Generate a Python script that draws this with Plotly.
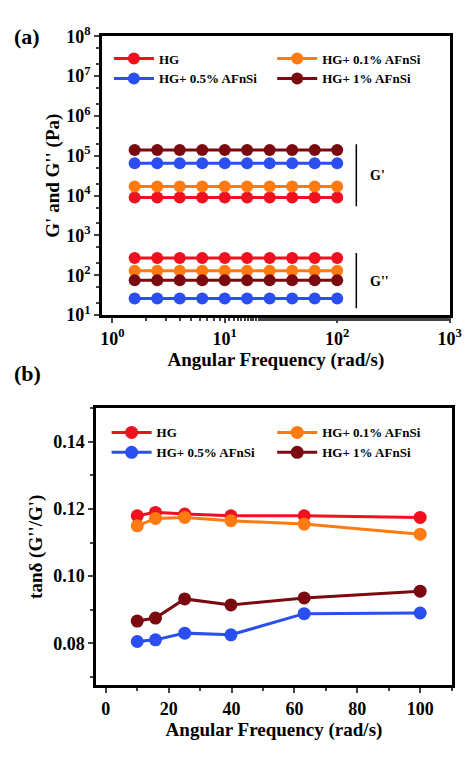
import plotly.graph_objects as go

# data
names = ['HG', 'HG+ 0.1% AFnSi', 'HG+ 0.5% AFnSi', 'HG+ 1% AFnSi']
colors = ['#f01020', '#ff7a10', '#2a4ef0', '#7a0a10']

freq_a = [1.58, 2.51, 3.98, 6.31, 10, 15.8, 25.1, 39.8, 63.1, 100]
g1 = [9.0e3, 1.7e4, 6.5e4, 1.4e5]      # G'
g2 = [270, 130, 26, 75]                 # G''

freq_b = [10, 15.8, 25.1, 39.8, 63.1, 100]
tan_hg = [0.118, 0.119, 0.1185, 0.118, 0.118, 0.1175]
tan_01 = [0.115, 0.1172, 0.1175, 0.1165, 0.1155, 0.1125]
tan_05 = [0.0805, 0.081, 0.083, 0.0825, 0.0888, 0.089]
tan_1 = [0.0866, 0.0875, 0.0932, 0.0914, 0.0935, 0.0955]
tans = [tan_hg, tan_01, tan_05, tan_1]

FONT = 'Liberation Serif'
leg_a = ['legend', 'legend2', 'legend', 'legend2']
leg_b = ['legend3', 'legend4', 'legend3', 'legend4']

fig = go.Figure()
for i in range(4):
    for vals, show in ((g1, True), (g2, False)):
        fig.add_trace(go.Scatter(
            x=freq_a, y=[vals[i]] * len(freq_a), mode='lines+markers', name=names[i],
            line=dict(color=colors[i], width=3), showlegend=show, legend=leg_a[i],
            marker=dict(size=12, color=colors[i]), xaxis='x', yaxis='y'))
for i in range(4):
    fig.add_trace(go.Scatter(
        x=freq_b, y=tans[i], mode='lines+markers', name=names[i],
        line=dict(color=colors[i], width=3), legend=leg_b[i],
        marker=dict(size=13, color=colors[i]), xaxis='x2', yaxis='y2'))

tick_font = dict(family=FONT, size=18, color='black', weight='bold')
ax = dict(showline=True, linecolor='black', linewidth=3, mirror=True, ticks='outside',
          tickwidth=2, ticklen=5, showgrid=False, zeroline=False, tickfont=tick_font)
tfont = dict(family=FONT, size=19, color='black', weight='bold')
leg = dict(bgcolor='rgba(0,0,0,0)', itemwidth=40, xanchor='left', yanchor='top',
           font=dict(family=FONT, size=13, color='black', weight='bold'), tracegroupgap=0)
minor = dict(ticks='outside', ticklen=3, tickwidth=1.5)

fig.update_layout(
    width=474, height=758, margin=dict(l=0, r=0, t=0, b=0),
    paper_bgcolor='white', plot_bgcolor='white',
    xaxis=dict(ax, type='log', range=[-0.09, 3], domain=[0.2004, 0.9557], anchor='y',
               tickvals=[1, 10, 100, 1000],
               ticktext=['10<sup>0</sup>', '10<sup>1</sup>', '10<sup>2</sup>', '10<sup>3</sup>'],
               minor=minor,
               title=dict(text='Angular Frequency (rad/s)', font=tfont, standoff=4)),
    yaxis=dict(ax, type='log', range=[1, 8], domain=[0.599, 0.978], anchor='x',
               tickvals=[10 ** k for k in range(1, 9)],
               ticktext=['10<sup>%d</sup>' % k for k in range(1, 9)],
               minor=minor,
               title=dict(text="G' and G'' (Pa)", font=tfont, standoff=2)),
    xaxis2=dict(ax, range=[-3, 110], domain=[0.1878, 0.96], anchor='y2', dtick=20,
                minor=dict(minor, dtick=10),
                title=dict(text='Angular Frequency (rad/s)', font=tfont, standoff=4)),
    yaxis2=dict(ax, range=[0.0675, 0.15], domain=[0.0963, 0.4723], anchor='x2',
                tickvals=[0.08, 0.10, 0.12, 0.14], tickformat='.2f',
                minor=dict(minor, dtick=0.01),
                title=dict(text="tanδ (G''/G')", font=tfont, standoff=6)),
    legend=dict(leg, x=0.215, y=0.968),
    legend2=dict(leg, x=0.57, y=0.968),
    legend3=dict(leg, x=0.21, y=0.46),
    legend4=dict(leg, x=0.57, y=0.46),
)

# brackets marking G' and G''
for y0, y1, lab, ym in ((3.73, 5.29, "G'", 4.5), (1.17, 2.56, "G''", 1.85)):
    fig.add_shape(type='line', xref='x', yref='y', x0=148, x1=148, y0=10 ** y0, y1=10 ** y1,
                  line=dict(color='black', width=1.5))
    fig.add_annotation(xref='x', yref='y', x=2.27, y=ym, text=lab, showarrow=False,
                       xanchor='left', font=dict(family=FONT, size=14, color='black', weight='bold'))

fig.add_annotation(xref='paper', yref='paper', x=0.005, y=0.997, text='(a)', showarrow=False,
                   xanchor='left', yanchor='top', font=dict(family=FONT, size=22, color='black', weight='bold'))
fig.add_annotation(xref='paper', yref='paper', x=0.005, y=0.54, text='(b)', showarrow=False,
                   xanchor='left', yanchor='top', font=dict(family=FONT, size=22, color='black', weight='bold'))

fig.write_html('out.html')
